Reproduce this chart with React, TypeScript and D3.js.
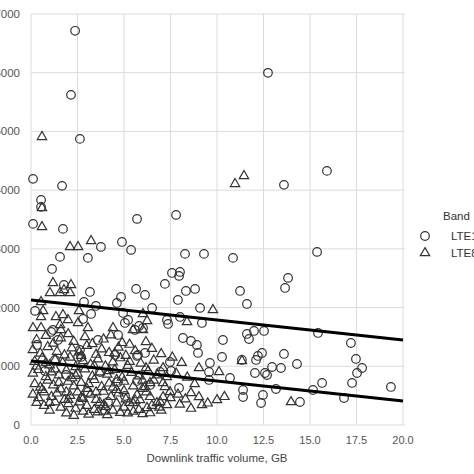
import React, { useEffect, useRef } from 'react';
import * as d3 from 'd3';

// LTE1800 (circles) — [traffic GB, value]
const circleX = [
  2.37, 2.15, 2.63, 12.74, 0.11, 1.67, 0.54, 0.54, 0.11, 1.72, 5.7, 13.6, 15.91, 7.8, 8.28, 9.3, 10.86, 15.38,
  13.82, 13.66, 1.56, 1.13, 3.06, 3.76, 4.89, 5.38, 1.77, 3.17, 5.65, 6.13, 4.84, 4.62, 2.85, 3.49, 3.23, 2.8,
  4.95, 5.22, 0.22, 1.18, 5.05, 5.59, 6.02, 3.6, 2.63, 2.69, 4.52, 5.75, 4.68, 7.58, 8.01, 7.96, 7.2, 8.33,
  8.82, 7.9, 6.51, 9.09, 11.24, 11.61, 7.31, 7.37, 8.01, 9.19, 5.81, 11.99, 12.53, 8.17, 8.6, 8.92, 10.32, 8.98,
  11.61, 11.72, 12.2, 12.42, 12.1, 11.34, 10.27, 9.62, 9.57, 10.7, 11.4, 11.4, 12.04, 12.37, 12.58, 9.57, 7.47,
  7.96, 7.53, 5.7, 6.13, 12.96, 12.69, 13.44, 13.6, 14.3, 13.17, 12.47, 14.46, 15.16, 15.65, 15.43, 16.83, 17.26,
  17.53, 17.8, 17.47, 17.2, 19.35, 1.08, 1.45, 2.53, 1.88, 3.71, 4.68, 5.7, 3.06, 0.75, 4.14, 5.05, 1.29, 0.32,
  6.4, 6.94,
];
const circleY = [
  6714, 5623, 4873, 5998, 4192, 4073, 3834, 3715, 3425, 3340, 3510, 4090, 4328, 3578, 2914, 2914, 2846, 2948,
  2505, 2334, 2863, 2658, 2846, 3033, 3118, 2982, 2386, 2266, 2317, 2215, 2181, 2079, 2096, 2028, 1891, 1806,
  1908, 1789, 1943, 1619, 1738, 1619, 1653, 1448, 1278, 1159, 1193, 1193, 1534, 2590, 2607, 2539, 2403, 2283,
  2317, 2130, 1994, 1994, 2283, 2062, 1789, 1721, 1840, 1738, 1687, 1602, 1602, 1482, 1431, 1363, 1448, 1227,
  1551, 1465, 1176, 1227, 1108, 1108, 1159, 1056, 903, 801, 596, 477, 886, 375, 886, 767, 1074,
  630, 920, 1176, 1227, 988, 852, 971, 1210, 1039, 613, 511, 392, 596, 716, 1568, 460, 716,
  886, 971, 1125, 1397, 648, 1585, 1448, 1159, 852, 903, 733, 750, 562, 920, 392, 494, 1108, 1363,
  682, 903,
];

// LTE800 (triangles)
const triX = [
  0.59, 0.59, 0.59, 10.97, 11.45, 2.1, 2.53, 3.23, 1.18, 2.15, 1.02, 1.56, 2.1, 1.77, 2.58, 0.54, 0.65, 0.54,
  1.34, 1.72, 1.99, 2.53, 0.11, 0.54, 1.56, 1.61, 3.06, 4.41, 9.78, 8.39, 6.18, 6.02, 5.48, 6.24, 6.02, 9.03,
  10.11, 7.1, 6.18, 8.6, 9.03, 9.19, 10.0, 13.98, 6.13, 6.4, 6.94, 7.1, 6.77, 6.24, 5.86, 5.48, 7.31, 7.1,
  7.47, 6.4, 11.34,
  0.3, 0.8, 1.2, 1.6, 2.0, 2.3, 2.9, 3.3, 3.9, 4.3, 4.9, 5.3,
  0.1, 0.5, 0.9, 1.4, 1.8, 2.2, 2.6, 3.0, 3.5, 3.8, 4.2, 4.7, 5.1, 5.6, 6.5, 7.0,
  0.2, 0.6, 1.0, 1.3, 1.7, 2.1, 2.4, 2.8, 3.2, 3.6, 4.0, 4.4, 4.8, 5.2, 5.9, 6.6, 7.6, 8.1,
  0.1, 0.4, 0.8, 1.1, 1.5, 1.9, 2.2, 2.5, 2.9, 3.3, 3.7, 4.1, 4.5, 4.9, 5.4, 5.8, 6.3, 6.8, 7.8, 8.4,
  0.2, 0.5, 0.9, 1.2, 1.6, 2.0, 2.3, 2.7, 3.0, 3.4, 3.8, 4.2, 4.6, 5.0, 5.5, 6.0, 6.6, 7.2, 8.8,
  0.1, 0.4, 0.7, 1.1, 1.4, 1.8, 2.1, 2.5, 2.8, 3.2, 3.5, 3.9, 4.3, 4.7, 5.1, 5.7, 6.2, 7.5, 7.9, 8.3, 10.4,
  0.3, 0.7, 1.3, 1.6, 2.0, 2.4, 2.6, 3.0, 3.4, 3.7, 4.0, 4.4, 4.6, 5.0, 5.3, 5.8, 6.5, 8.0, 8.6, 9.5,
  1.9, 2.3, 3.1, 3.6, 4.1, 4.8, 5.5,
  0.6, 1.0, 1.5, 1.9, 2.4, 2.7, 3.1, 3.5, 3.9, 4.2, 4.6, 5.0, 5.3, 5.6, 6.0, 6.4, 6.9, 7.3,
  0.3, 1.3, 2.7, 3.4, 4.5, 1.0, 2.8, 3.9, 5.2, 6.0, 7.0, 0.8, 2.0, 4.4,
];
const triY = [
  4908, 3698, 3374, 4107, 4243, 3033, 3033, 3135, 2420, 2386, 2249, 2249, 2249, 2300, 1943, 2096, 1943, 1840,
  1840, 1874, 1789, 1738, 1653, 1653, 1704, 1619, 1653, 1653, 1960, 1755, 1414, 1619, 1619, 1772, 1891, 971,
  903, 971, 971, 545, 477, 341, 426, 392, 648, 716, 392, 477, 375, 290, 426, 375, 341, 716,
  562, 204, 1091,
  1450, 1520, 1390, 1480, 1550, 1420, 1500, 1380, 1460, 1530, 1400, 1370,
  1280, 1220, 1330, 1250, 1190, 1310, 1240, 1350, 1200, 1290, 1230, 1320, 1180, 1260, 1300, 1210,
  1080, 1140, 1020, 1110, 1060, 1150, 990, 1090, 1030, 1120, 1000, 1070, 1140, 1010, 1050, 1100, 1150, 1060,
  880, 940, 820, 900, 850, 930, 800, 880, 950, 830, 900, 860, 940, 810, 890, 830, 920, 850, 880, 810,
  700, 640, 760, 680, 610, 740, 660, 720, 620, 770, 650, 710, 600, 740, 660, 620, 760, 650, 700,
  520, 460, 560, 480, 540, 430, 500, 560, 450, 520, 430, 570, 480, 540, 440, 510, 560, 460, 520, 440, 480,
  380, 330, 390, 300, 360, 280, 390, 330, 260, 380, 310, 250, 370, 300, 380, 260, 330, 350, 280, 370,
  200, 160, 180, 220, 170, 210, 230,
  600, 380, 720, 560, 840, 470, 700, 560, 340, 920, 770, 580, 1080, 420, 760, 480, 300, 820,
  1000, 950, 1180, 1010, 1220, 250, 230, 230, 200, 190, 250, 1060, 430, 640,
];

// fitted lines: value at x = 0 and x = 20
const fitX = [0, 20];
const fitCircle = [2130, 1448];
const fitTri = [1090, 410];

const xTicks = [0, 2.5, 5, 7.5, 10, 12.5, 15, 17.5, 20];
const yTicks = [0, 1000, 2000, 3000, 4000, 5000, 6000, 7000];
const legendLabels = ['LTE1800', 'LTE800'];

export default function App() {
  const svgRef = useRef<SVGSVGElement>(null);

  useEffect(() => {
    if (!svgRef.current) return;
    const svg = d3.select(svgRef.current);
    svg.selectAll('*').remove();

    const x = d3.scaleLinear().domain([0, 20]).range([31, 403]);
    const y = d3.scaleLinear().domain([0, 7000]).range([425, 14]);
    const ink = '#333';
    const font = 'Liberation Sans, Arial, sans-serif';

    // grid
    const grid = svg.append('g').attr('stroke', '#dcdcdc').attr('stroke-width', 1);
    yTicks.forEach(t => {
      grid.append('line').attr('x1', 31).attr('x2', 405).attr('y1', y(t)).attr('y2', y(t));
    });
    xTicks.forEach(t => {
      grid.append('line').attr('x1', x(t)).attr('x2', x(t)).attr('y1', 14).attr('y2', 425);
    });

    // tick labels (the left edge crops them, as in the source figure)
    svg.append('g').selectAll('text').data(yTicks).join('text')
      .attr('x', 20).attr('y', d => y(d)).attr('dy', '0.35em')
      .attr('text-anchor', 'end').attr('font-family', font).attr('font-size', 11.5)
      .attr('fill', '#555').text(d => String(d));
    svg.append('g').selectAll('text').data(xTicks).join('text')
      .attr('x', d => x(d)).attr('y', 444)
      .attr('text-anchor', 'middle').attr('font-family', font).attr('font-size', 11)
      .attr('fill', '#555').text(d => d.toFixed(1));
    svg.append('text')
      .attr('x', x(10)).attr('y', 462).attr('text-anchor', 'middle')
      .attr('font-family', font).attr('font-size', 11.5).attr('fill', '#444')
      .text('Downlink traffic volume, GB');

    // circles
    svg.append('g').selectAll('circle').data(circleX).join('circle')
      .attr('cx', d => x(d)).attr('cy', (_, i) => y(circleY[i])).attr('r', 4.3)
      .attr('fill', 'none').attr('stroke', ink).attr('stroke-width', 1.2);

    // triangles
    const tri = d3.symbol().type(d3.symbolTriangle).size(38);
    svg.append('g').selectAll('path').data(triX).join('path')
      .attr('d', tri() as string)
      .attr('transform', (d, i) => `translate(${x(d)},${y(triY[i])})`)
      .attr('fill', 'none').attr('stroke', ink).attr('stroke-width', 1.2);

    // fit lines
    const line = d3.line<number>().x((d) => x(d));
    [fitCircle, fitTri].forEach(vals => {
      svg.append('path')
        .attr('d', line.y((_, i) => y(vals[i]))(fitX) as string)
        .attr('fill', 'none').attr('stroke', '#000').attr('stroke-width', 3);
    });

    // legend
    const lg = svg.append('g');
    lg.append('text').attr('x', 443).attr('y', 220).attr('font-family', font)
      .attr('font-size', 11.5).attr('fill', '#333').text('Band');
    lg.append('circle').attr('cx', 425).attr('cy', 236).attr('r', 4.3)
      .attr('fill', 'none').attr('stroke', ink).attr('stroke-width', 1.2);
    lg.append('path').attr('d', tri() as string).attr('transform', 'translate(425,253)')
      .attr('fill', 'none').attr('stroke', ink).attr('stroke-width', 1.2);
    legendLabels.forEach((l, i) => {
      lg.append('text').attr('x', 451).attr('y', 236 + i * 17).attr('dy', '0.35em')
        .attr('font-family', font).attr('font-size', 11.5).attr('fill', '#333').text(l);
    });
  }, []);

  return (
    <svg
      ref={svgRef}
      width={474}
      height={474}
      style={{ position: 'absolute', left: 0, top: 0, background: '#fff' }}
    />
  );
}
